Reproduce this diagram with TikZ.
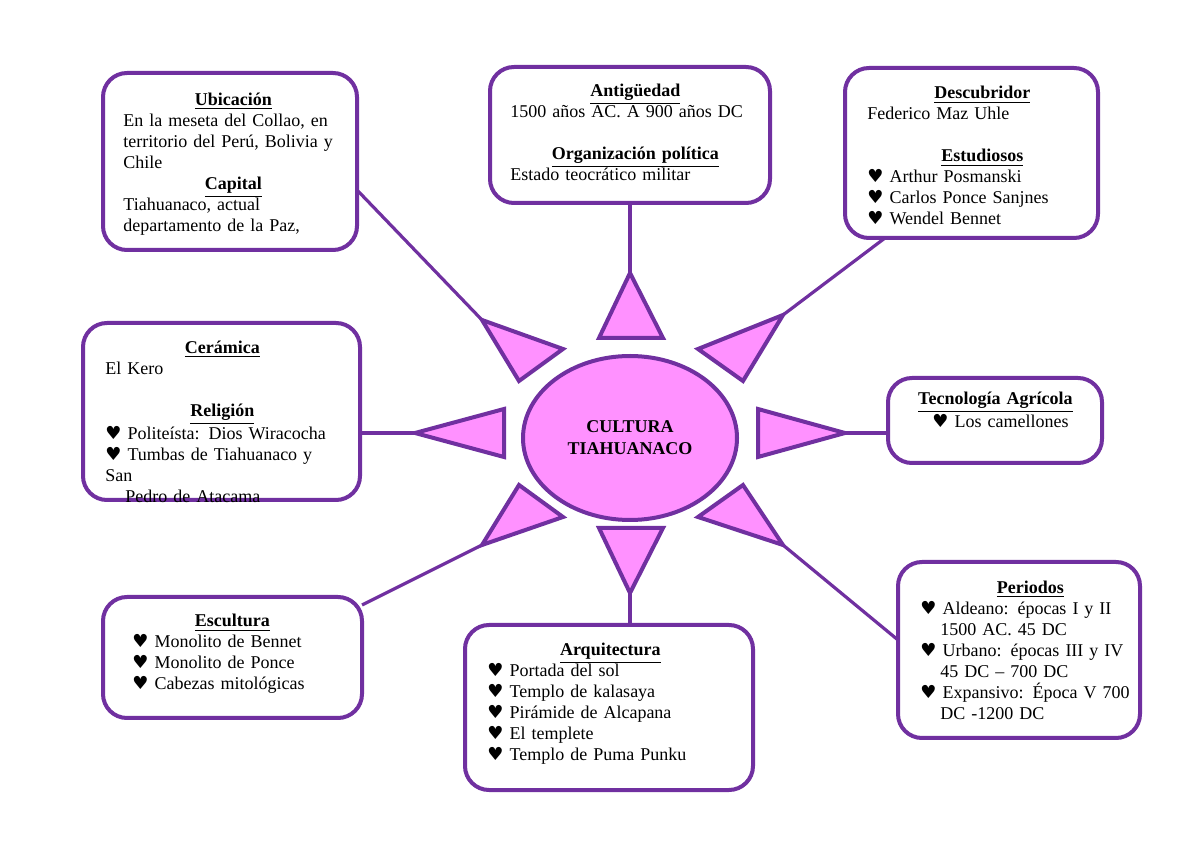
\documentclass[tikz,border=0pt]{standalone}
\usepackage{fontspec}
\setmainfont{Liberation Serif}
\newfontfamily\symfont{DejaVu Sans}
\usetikzlibrary{shapes.geometric}
\definecolor{morado}{RGB}{112,48,160}
\definecolor{rosa}{RGB}{255,145,255}
\newcommand{\hd}[1]{\makebox[\hsize]{\textbf{\underline{#1}}}}
\newcommand{\hrt}{{\symfont\small ♥}\ }
\tikzset{
  caja/.style={draw=morado,line width=2pt,rounded corners=12pt,fill=white},
  txt/.style={anchor=north west,inner sep=0pt,align=left,font=\fontsize{9}{10.5}\selectfont},
  rayo/.style={draw=morado,line width=2pt,fill=rosa,line join=miter},
  linea/.style={draw=morado,line width=1.6pt}
}
\begin{document}
\begin{tikzpicture}[x=0.5pt,y=-0.5pt]
\useasboundingbox (0,0) rectangle (1200,849);
% centro
\node[ellipse,draw=morado,line width=2pt,fill=rosa,minimum width=107pt,minimum height=82pt,
  font=\bfseries\fontsize{9}{11}\selectfont,align=center] (centro) at (630,438) {CULTURA\\TIAHUANACO};
% triangulos
\draw[rayo] (630,273) coordinate (tN) -- (663,338) -- (599,338) -- cycle;
\draw[rayo] (630,593) coordinate (tS) -- (663,528) -- (599,528) -- cycle;
\draw[rayo] (415,433) coordinate (tW) -- (504,409) -- (504,457) -- cycle;
\draw[rayo] (845,433) coordinate (tE) -- (758,409) -- (758,457) -- cycle;
\draw[rayo] (482,320) coordinate (tNW) -- (563,349) -- (519,381) -- cycle;
\draw[rayo] (783,315) coordinate (tNE) -- (698,349) -- (743,381) -- cycle;
\draw[rayo] (482,545) coordinate (tSW) -- (563,517) -- (519,485) -- cycle;
\draw[rayo] (783,545) coordinate (tSE) -- (698,517) -- (743,485) -- cycle;
% cajas
\draw[caja] (103,73) rectangle (357,250) node[pos=0.5] (ubic) {};
\draw[caja] (490,67) rectangle (770,203) node[pos=0.5] (anti) {};
\draw[caja] (845,68) rectangle (1098,238) node[pos=0.5] (desc) {};
\draw[caja] (83,323) rectangle (360,500) node[pos=0.5] (cera) {};
\draw[caja] (888,378) rectangle (1102,463) node[pos=0.5] (tecn) {};
\draw[caja] (103,597) rectangle (362,718) node[pos=0.5] (escu) {};
\draw[caja] (465,625) rectangle (753,790) node[pos=0.5] (arqu) {};
\draw[caja] (898,562) rectangle (1140,738) node[pos=0.5] (peri) {};
% conectores
\coordinate (cUbic) at (357,190);
\coordinate (cAnti) at (630,203);
\coordinate (cDesc) at (885,238);
\coordinate (cCera) at (360,433);
\coordinate (cTecn) at (888,433);
\coordinate (cEscu) at (362,605);
\coordinate (cArqu) at (630,625);
\coordinate (cPeri) at (898,640);
\draw[linea] (cUbic) -- (tNW);
\draw[linea] (cAnti) -- (tN);
\draw[linea] (cDesc) -- (tNE);
\draw[linea] (cCera) -- (tW);
\draw[linea] (cTecn) -- (tE);
\draw[linea] (cEscu) -- (tSW);
\draw[linea] (cArqu) -- (tS);
\draw[linea] (cPeri) -- (tSE);
% textos
\node[txt,text width=110pt] (tUbic) at (123,93) {\hd{Ubicación}\\En la meseta del Collao, en\\territorio del Perú, Bolivia y\\Chile\\\hd{Capital}\\Tiahuanaco, actual\\departamento de la Paz,};
\node[txt,text width=125pt] (tAnti) at (510,84) {\hd{Antigüedad}\\1500 años AC. A 900 años DC\\[10.5pt]\hd{Organización política}\\Estado teocrático militar};
\node[txt,text width=115pt] (tDesc) at (867,86) {\hd{Descubridor}\\Federico Maz Uhle\\[10.5pt]\hd{Estudiosos}\\\hrt Arthur Posmanski\\\hrt Carlos Ponce Sanjnes\\\hrt Wendel Bennet};
\node[txt,text width=117pt] (tCera) at (105,341) {\hd{Cerámica}\\El Kero\\[10.5pt]\hd{Religión}\\\hrt Politeísta: Dios Wiracocha\\\hrt Tumbas de Tiahuanaco y San\\\hspace{10pt}Pedro de Atacama};
\node[txt,text width=105pt] (tTecn) at (890,392) {\hd{Tecnología Agrícola}\\\hspace{21pt}\hrt Los camellones};
\node[txt,text width=100pt] (tEscu) at (132,614) {\hd{Escultura}\\\hrt Monolito de Bennet\\\hrt Monolito de Ponce\\\hrt Cabezas mitológicas};
\node[txt,text width=123pt] (tArqu) at (487,643) {\hd{Arquitectura}\\\hrt Portada del sol\\\hrt Templo de kalasaya\\\hrt Pirámide de Alcapana\\\hrt El templete\\\hrt Templo de Puma Punku};
\node[txt,text width=110pt] (tPeri) at (920,581) {\hd{Periodos}\\\hrt Aldeano: épocas I y II\\\hspace{10pt}1500 AC. 45 DC\\\hrt Urbano: épocas III y IV\\\hspace{10pt}45 DC -- 700 DC\\\hrt Expansivo: Época V 700\\\hspace{10pt}DC -1200 DC};
\end{tikzpicture}
\end{document}
